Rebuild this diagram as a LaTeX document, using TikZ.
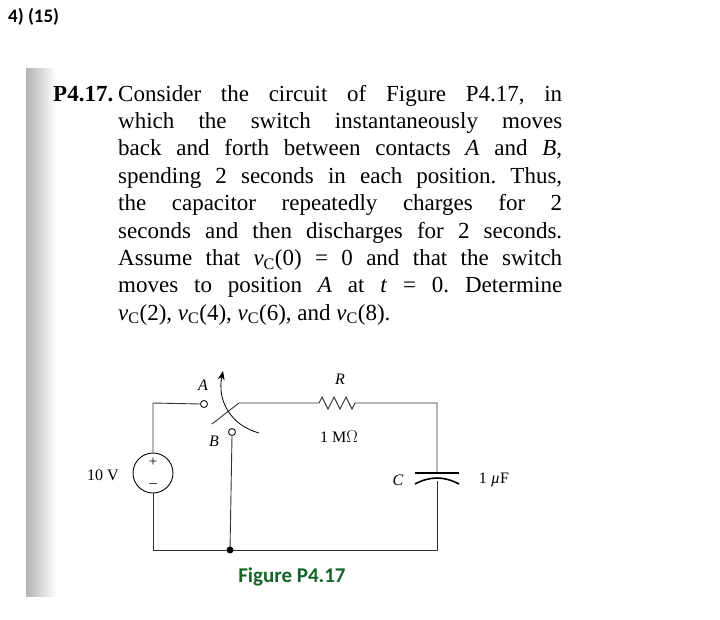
\documentclass[tikz,border=0pt]{standalone}
\usepackage{fontspec}
\setmainfont{Liberation Serif}
\newfontfamily\uisans{Carlito}
\usetikzlibrary{arrows.meta}
\definecolor{figgreen}{RGB}{20,100,40}
\frenchspacing
\begin{document}
\begin{tikzpicture}[x=1pt,y=-1pt,
  wire/.style={line width=0.9pt,black!80},
  txt/.style={anchor=base west,inner sep=0pt,font=\fontsize{23}{26}\selectfont},
  lbl/.style={inner sep=0pt,font=\fontsize{16}{18}\selectfont}]
\useasboundingbox (0,0) rectangle (720,619);
\fill[white] (0,0) rectangle (720,619);
\shade[left color=black!30,right color=white] (26,68) rectangle (56,596);
\node[anchor=base west,inner sep=0pt,font=\uisans\bfseries\fontsize{19}{22}\selectfont] (hdr) at (8,22) {4) (15)};
\node[txt,font=\bfseries\fontsize{23}{26}\selectfont] (num) at (53,101) {P4.17.};
\foreach \t [count=\i] in {
 {Consider the circuit of Figure P4.17, in},
 {which the switch instantaneously moves},
 {back and forth between contacts \textit{A} and \textit{B},},
 {spending 2 seconds in each position. Thus,},
 {the capacitor repeatedly charges for 2},
 {seconds and then discharges for 2 seconds.},
 {Assume that \textit{v}\textsubscript{C}(0) = 0 and that the switch},
 {moves to position \textit{A} at \textit{t} = 0. Determine}}
 {\node[txt] (l\i) at (118,{101+27.4*(\i-1)}) {\makebox[444pt][s]{\t}};}
\node[txt] (l9) at (118,{101+27.4*8}) {\textit{v}\textsubscript{C}(2), \textit{v}\textsubscript{C}(4), \textit{v}\textsubscript{C}(6), and \textit{v}\textsubscript{C}(8).};
% circuit
\coordinate (tl) at (153,403); \coordinate (bl) at (153,550);
\coordinate (tr) at (437,403); \coordinate (br) at (437,550);
\coordinate (jn) at (230,550);
\node[circle,draw,line width=0.9pt,minimum size=40pt,inner sep=0pt] (src) at (153,473) {};
\node[lbl,font=\fontsize{15}{16}\selectfont] (plus) at (153,462) {+};
\node[lbl,font=\fontsize{15}{16}\selectfont] (minus) at (153,486) {--};
\node[circle,draw,line width=0.8pt,minimum size=7pt,inner sep=0pt] (ca) at (204,404) {};
\node[circle,draw,line width=0.8pt,minimum size=7pt,inner sep=0pt] (cb) at (232,432) {};
\coordinate (piv) at (239,403);
\coordinate (blade) at (212,424);
\draw[wire] (src.north) -- (tl) -- (ca.west);
\draw[wire] (src.south) -- (bl) -- (jn) -- (br) -- (437,481);
\draw[wire] (cb.south) -- (jn);
\draw[wire] (blade) -- (piv) -- (319,403) -- (322,397) -- (328,409) -- (334,397) -- (340,409) -- (346,397) -- (352,409) -- (355,403) -- (tr) -- (437,473);
\fill (jn) circle (3.5pt);
\draw[line width=1.6pt] (415,473) -- (459,473);
\draw[line width=1.6pt] (415,484) .. controls (430,476) and (444,476) .. (459,484);
\draw[line width=0.8pt,-{Stealth[length=9pt,width=7pt]},{Stealth[length=9pt,width=7pt]}-] (223,371) .. controls (217,400) and (230,425) .. (259,433);
\node[lbl,font=\itshape\fontsize{16}{18}\selectfont] (la) at (203,385) {A};
\node[lbl,font=\itshape\fontsize{16}{18}\selectfont] (lb) at (214,441) {B};
\node[lbl,font=\itshape\fontsize{16}{18}\selectfont] (lr) at (340,379) {R};
\node[lbl] (lrv) at (339,437) {1 M$\Omega$};
\node[lbl] (lv) at (103,475) {10 V};
\node[lbl,font=\itshape\fontsize{16}{18}\selectfont] (lc) at (398,480) {C};
\node[lbl] (lcv) at (494,480) {1 \textit{µ}F};
\node[inner sep=0pt,font=\uisans\bfseries\fontsize{21}{24}\selectfont,text=figgreen] (cap) at (292,577) {Figure P4.17};
\end{tikzpicture}
\end{document}
